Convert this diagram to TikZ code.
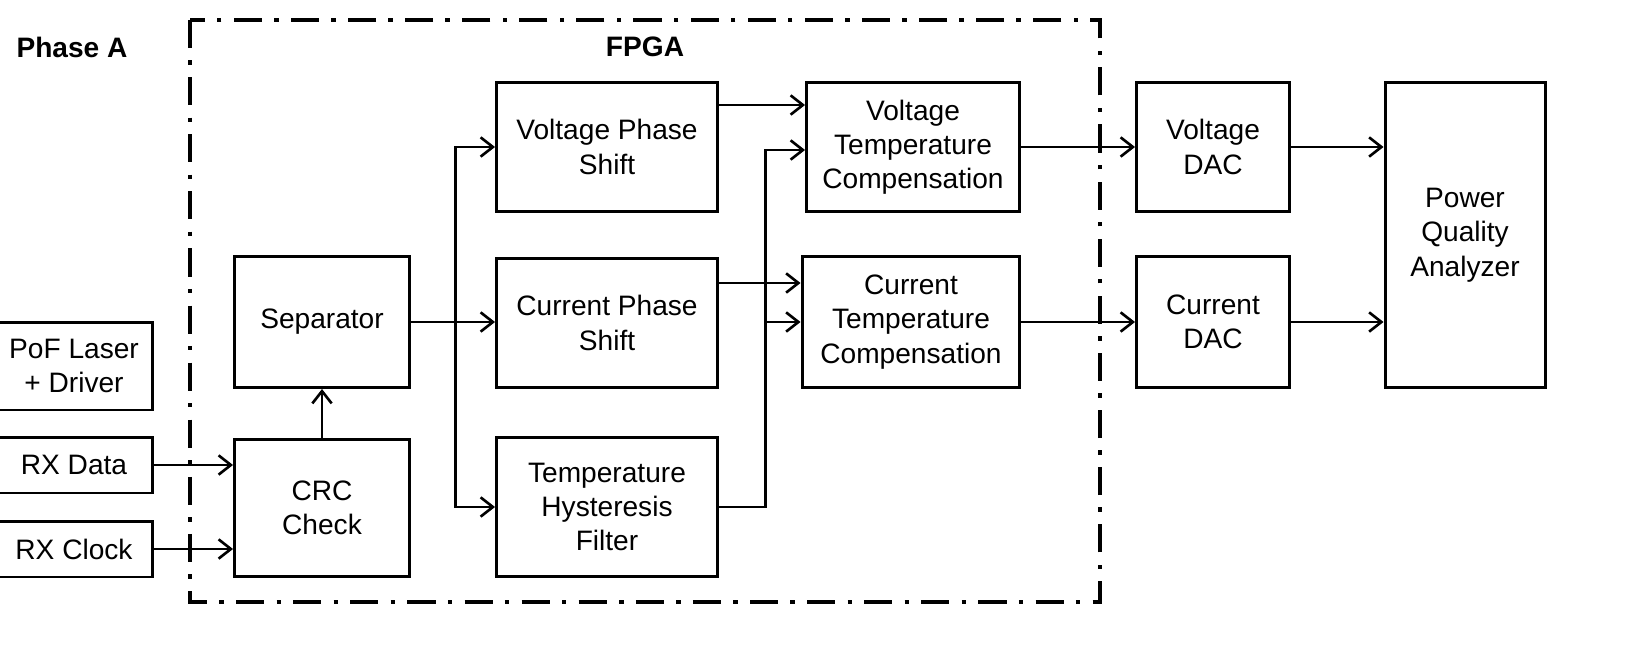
\documentclass[tikz,border=0pt]{standalone}
\usepackage{fontspec}
\setmainfont{Liberation Sans}
\usetikzlibrary{arrows.meta}

\tikzset{
  blk/.style={draw, line width=1.7pt, align=center, inner sep=0pt, font=\fontsize{16}{19.5}\selectfont},
  con/.style={line width=1.7pt, -{Straight Barb[length=7pt,width=11pt,line width=1.5pt]}},
  frame/.style={line width=2.2pt, dash pattern=on 16pt off 7pt on 2.5pt off 7pt}
}

\begin{document}
\begin{tikzpicture}[x=0.02cm, y=-0.02cm]
\useasboundingbox (0,0) rectangle (1649,669);
\clip (0,0) rectangle (1649,669);

% fpga frame and titles
\draw[frame] (190,20) rectangle (1100,602);
\node[font=\fontsize{16}{19}\selectfont\bfseries] (phase) at (72,47) {Phase A};
\node[font=\fontsize{16}{19}\selectfont\bfseries] (fpga) at (645,47) {FPGA};

% inputs
\node[blk, minimum width=3.16cm, minimum height=1.76cm] (pof) at (74,366) {PoF Laser\\+ Driver};
\node[blk, minimum width=3.16cm, minimum height=1.12cm] (rxd) at (74,465) {RX Data};
\node[blk, minimum width=3.16cm, minimum height=1.12cm] (rxc) at (74,549) {RX Clock};

% fpga blocks
\node[blk, minimum width=3.5cm, minimum height=2.74cm] (crc) at (322,508) {CRC\\Check};
\node[blk, minimum width=3.5cm, minimum height=2.62cm] (sep) at (322,322) {Separator};
\node[blk, minimum width=4.42cm, minimum height=2.6cm] (vps) at (607,147) {Voltage Phase\\Shift};
\node[blk, minimum width=4.42cm, minimum height=2.6cm] (cps) at (607,323) {Current Phase\\Shift};
\node[blk, minimum width=4.42cm, minimum height=2.78cm] (thf) at (607,507) {Temperature\\Hysteresis\\Filter};
\node[blk, minimum width=4.26cm, minimum height=2.6cm] (vtc) at (913,147) {Voltage\\Temperature\\Compensation};
\node[blk, minimum width=4.36cm, minimum height=2.62cm] (ctc) at (911,322) {Current\\Temperature\\Compensation};

% outputs
\node[blk, minimum width=3.06cm, minimum height=2.6cm] (vdac) at (1213,147) {Voltage\\DAC};
\node[blk, minimum width=3.06cm, minimum height=2.62cm] (cdac) at (1213,322) {Current\\DAC};
\node[blk, minimum width=3.2cm, minimum height=6.12cm] (pqa) at (1465,235) {Power\\Quality\\Analyzer};

% connections
\draw[con] (rxd.east) -- (rxd.east -| crc.west);
\draw[con] (rxc.east) -- (rxc.east -| crc.west);
\draw[con] (crc.north) -- (sep.south);
\draw[con] (sep.east) -- (sep.east -| cps.west);
\coordinate (b1) at (455,322);
\draw[con] (b1) |- (vps.west);
\draw[con] (b1) |- (thf.west);
\coordinate (vy) at (0,105);
\coordinate (cy) at (0,283);
\draw[con] (vps.east |- vy) -- (vtc.west |- vy);
\draw[con] (cps.east |- cy) -- (ctc.west |- cy);
\coordinate (b2) at (765,150);
\draw[con] (thf.east) -| (b2) -- (vtc.west |- b2);
\draw[con] (b2 |- ctc.west) -- (ctc.west);
\draw[con] (vtc.east) -- (vdac.west);
\draw[con] (ctc.east) -- (cdac.west);
\draw[con] (vdac.east) -- (vdac.east -| pqa.west);
\draw[con] (cdac.east) -- (cdac.east -| pqa.west);
\end{tikzpicture}
\end{document}
